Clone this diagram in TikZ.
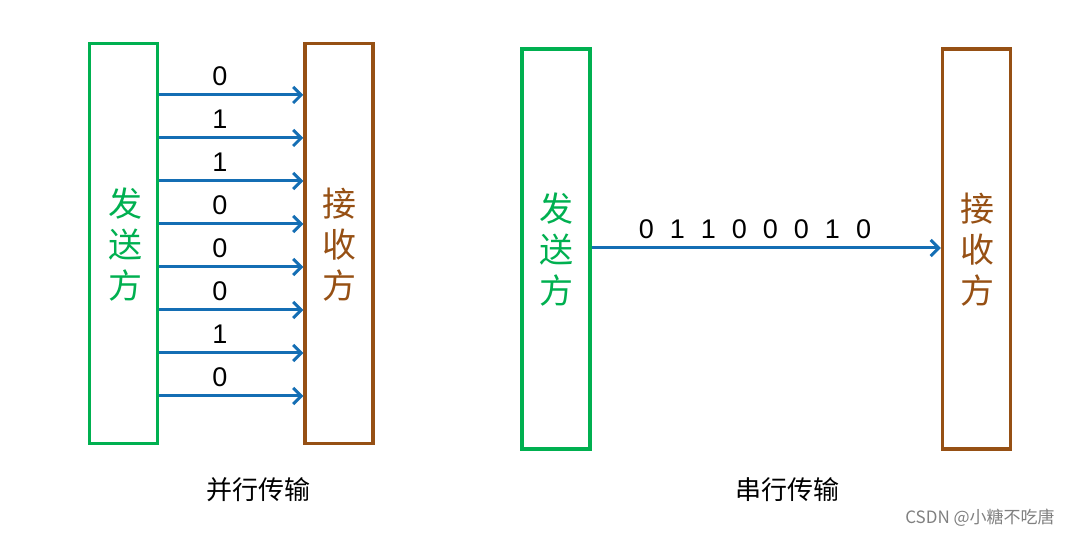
\documentclass[tikz,border=0pt]{standalone}
\usepackage{fontspec}
\setmainfont{Liberation Sans}
\newfontfamily\cjk{Noto Sans CJK SC}
\usetikzlibrary{arrows.meta}
\definecolor{gr}{RGB}{0,176,80}
\definecolor{br}{RGB}{150,80,20}
\definecolor{bl}{RGB}{20,110,180}
\begin{document}
\begin{tikzpicture}[x=1pt,y=-1pt,
 box/.style={draw,line width=3.5pt,minimum width=68pt,minimum height=400pt,inner sep=0},
 arr/.style={bl,line width=3pt,-{Straight Barb[length=8pt,width=16pt]}},
 vt/.style={font=\cjk\fontsize{34}{41}\selectfont,align=center},
 bit/.style={font=\fontsize{27}{28}\selectfont}]
\useasboundingbox (0,0) rectangle (1080,537);
\node[box,draw=gr] (s1) at (123.5,243.5) {};
\node[box,draw=br] (r1) at (339,243.5) {};
\node[vt,text=gr] at (125,245) {发\\送\\方};
\node[vt,text=br] at (339,245) {接\\收\\方};
\foreach \y/\b [count=\i] in {95/0,138/1,181/1,224/0,267/0,310/0,353/1,396/0}{
 \coordinate (a\i) at (s1.east |- 0,\y);
 \coordinate (b\i) at (r1.west |- 0,\y);
 \draw[arr] (a\i) -- (b\i);
 \node[bit] at (220,\y-19) {\b};
}
\node[box,draw=gr] (s2) at (556,249) {};
\node[box,draw=br] (r2) at (976.5,249) {};
\node[vt,text=gr] at (556,250) {发\\送\\方};
\node[vt,text=br] at (977,250) {接\\收\\方};
\draw[arr] (s2.east |- 0,248) -- (r2.west |- 0,248);
\node[bit] at (755,229) {0\hspace{16pt}1\hspace{16pt}1\hspace{16pt}0\hspace{16pt}0\hspace{16pt}0\hspace{16pt}1\hspace{16pt}0};
\node[font=\cjk\fontsize{26}{30}\selectfont] at (258,490) {并行传输};
\node[font=\cjk\fontsize{26}{30}\selectfont] at (787,490) {串行传输};
\node[font=\cjk\fontsize{17}{20}\selectfont,text=gray] at (980,518) {CSDN @小糖不吃唐};
\end{tikzpicture}
\end{document}
